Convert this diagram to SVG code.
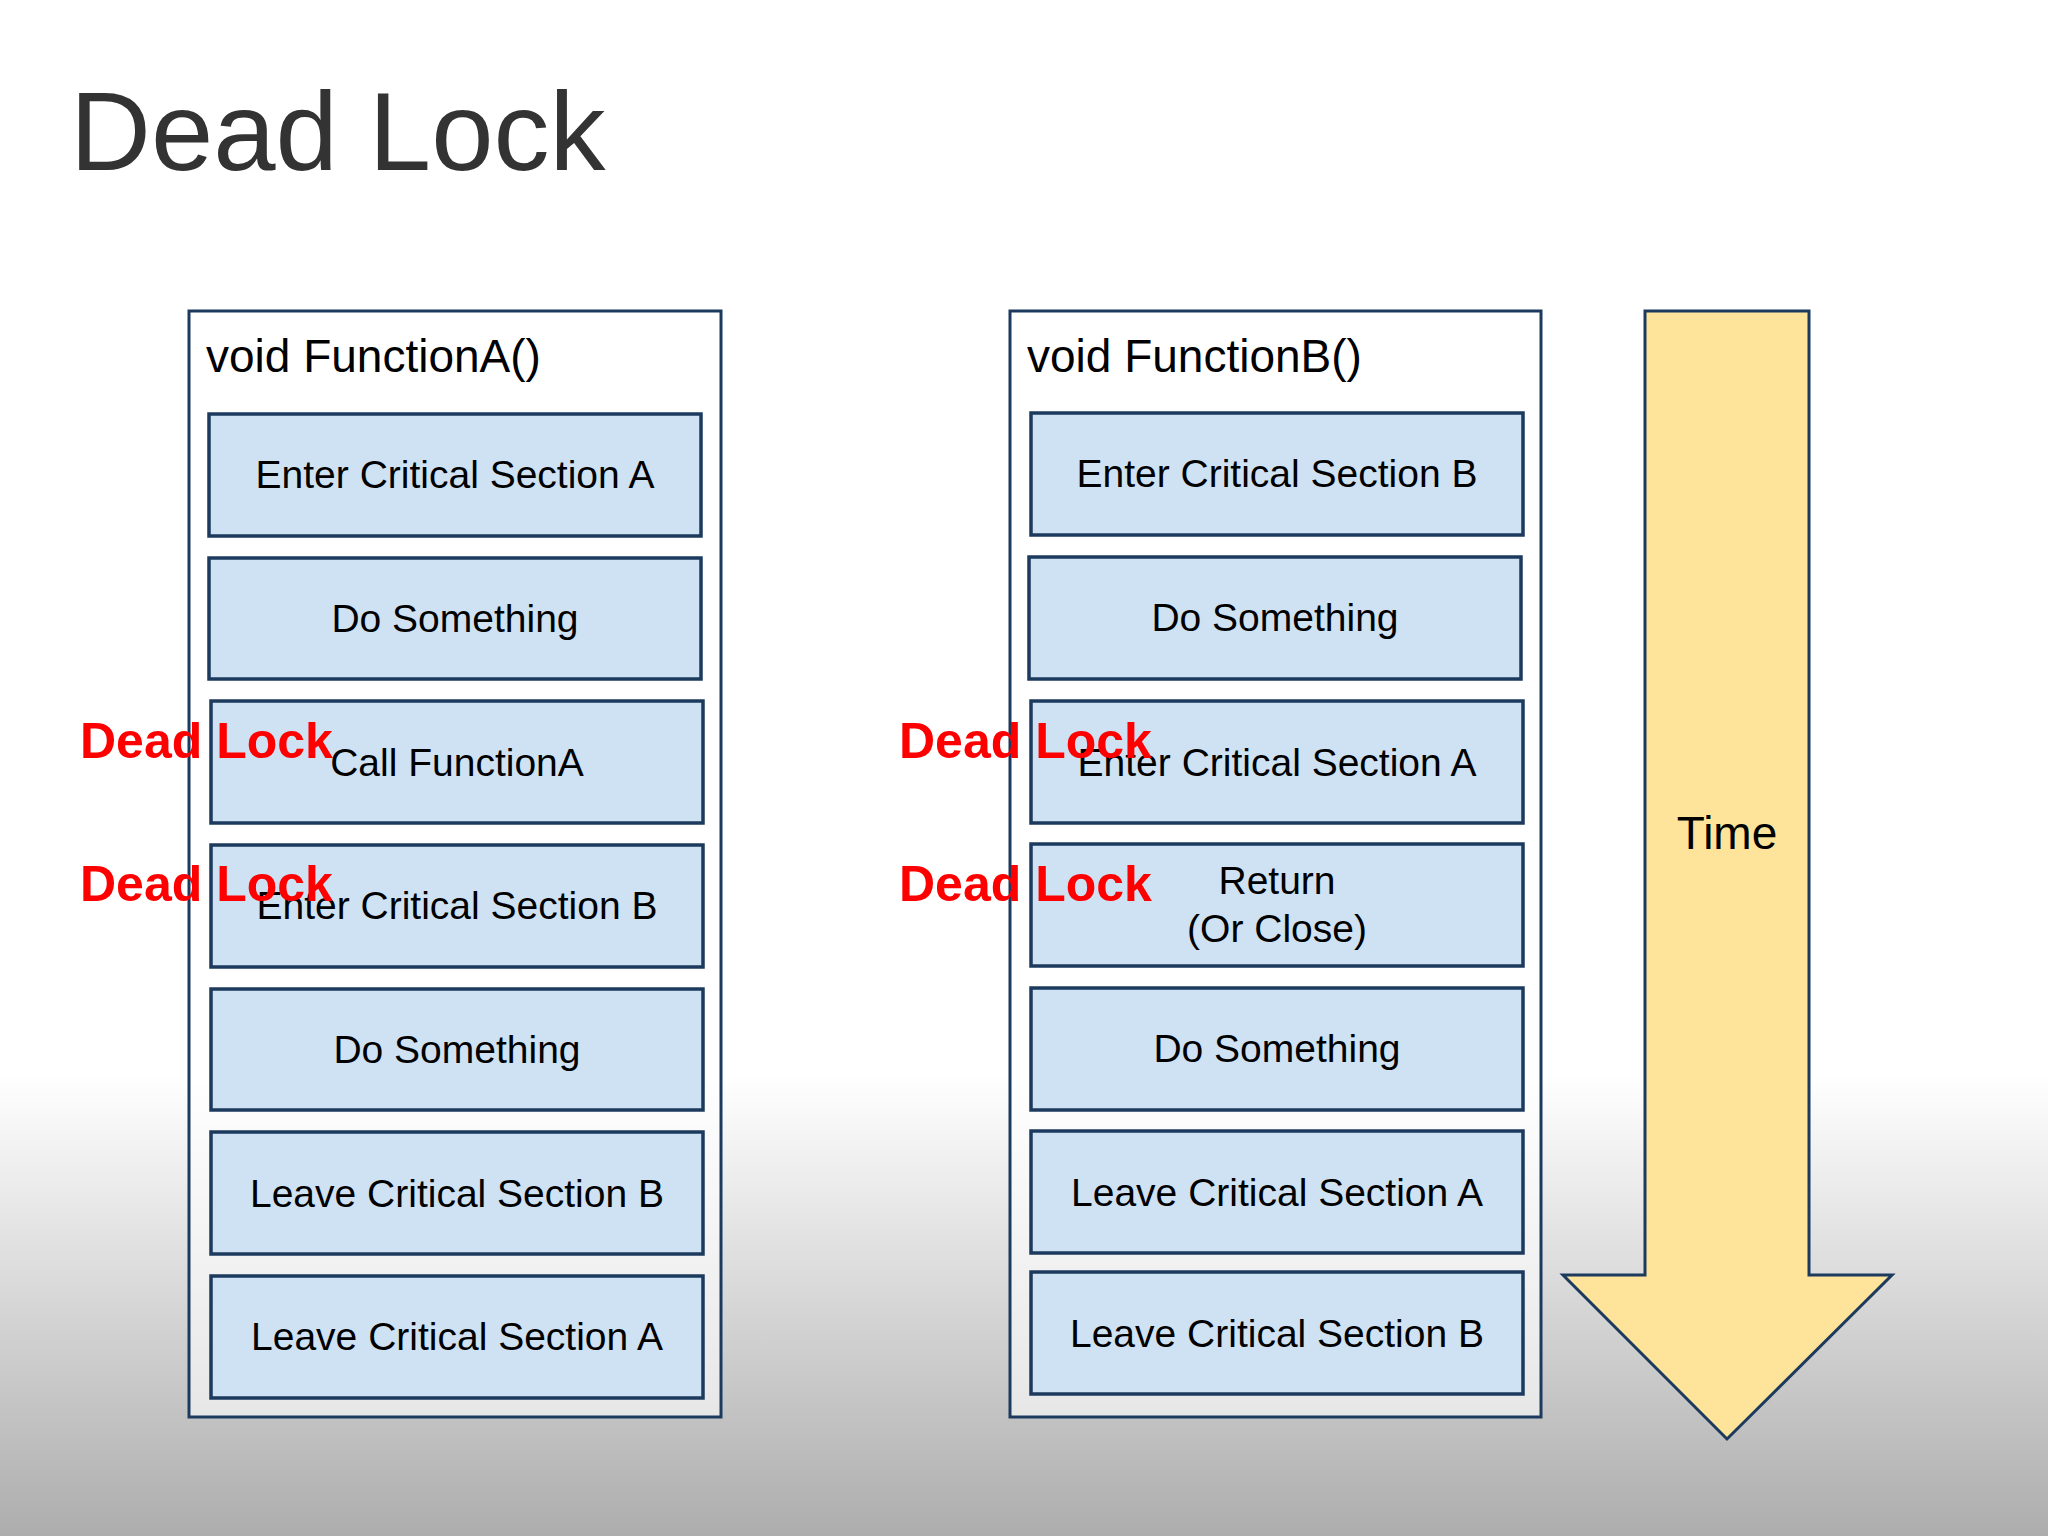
<svg xmlns="http://www.w3.org/2000/svg" width="2048" height="1536" viewBox="0 0 2048 1536">
<defs>
<linearGradient id="bg" x1="0" y1="0" x2="0" y2="1536" gradientUnits="userSpaceOnUse">
<stop offset="0" stop-color="#ffffff"/><stop offset="0.7" stop-color="#ffffff"/><stop offset="1" stop-color="#adadad"/>
</linearGradient>
<style>
.c{fill:#ffffff;stroke:#1c3a5e;stroke-width:3}
.b{fill:#cfe2f3;stroke:#1c3a5e;stroke-width:3.5}
.t{font-family:"Liberation Sans",Arial,sans-serif;font-size:39px;fill:#000;text-anchor:middle}
.h{font-family:"Liberation Sans",Arial,sans-serif;font-size:46px;fill:#000}
.d{font-family:"Liberation Sans",Arial,sans-serif;font-size:50px;font-weight:bold;fill:#ff0000}
</style>
</defs>
<rect width="2048" height="1536" fill="url(#bg)"/>
<text x="70" y="170" font-family="Liberation Sans,Arial,sans-serif" font-size="112" fill="#333">Dead Lock</text>
<g id="functionA">
<rect class="c" x="189" y="311" width="532" height="1106" fill-opacity="0.6"/>
<text class="h" x="206" y="372">void FunctionA()</text>
<rect class="b" x="209" y="414" width="492" height="122"/><text class="t" x="455" y="488">Enter Critical Section A</text>
<rect class="b" x="209" y="558" width="492" height="121"/><text class="t" x="455" y="632">Do Something</text>
<rect class="b" x="211" y="701" width="492" height="122"/><text class="t" x="457" y="776">Call FunctionA</text>
<rect class="b" x="211" y="845" width="492" height="122"/><text class="t" x="457" y="919">Enter Critical Section B</text>
<rect class="b" x="211" y="989" width="492" height="121"/><text class="t" x="457" y="1063">Do Something</text>
<rect class="b" x="211" y="1132" width="492" height="122"/><text class="t" x="457" y="1207">Leave Critical Section B</text>
<rect class="b" x="211" y="1276" width="492" height="122"/><text class="t" x="457" y="1350">Leave Critical Section A</text>
</g>
<g id="functionB">
<rect class="c" x="1010" y="311" width="531" height="1106" fill-opacity="0.6"/>
<text class="h" x="1027" y="372">void FunctionB()</text>
<rect class="b" x="1031" y="413" width="492" height="122"/><text class="t" x="1277" y="487">Enter Critical Section B</text>
<rect class="b" x="1029" y="557" width="492" height="122"/><text class="t" x="1275" y="631">Do Something</text>
<rect class="b" x="1031" y="701" width="492" height="122"/><text class="t" x="1277" y="776">Enter Critical Section A</text>
<rect class="b" x="1031" y="844" width="492" height="122"/><text class="t" x="1277" y="894">Return</text><text class="t" x="1277" y="942">(Or Close)</text>
<rect class="b" x="1031" y="988" width="492" height="122"/><text class="t" x="1277" y="1062">Do Something</text>
<rect class="b" x="1031" y="1131" width="492" height="122"/><text class="t" x="1277" y="1206">Leave Critical Section A</text>
<rect class="b" x="1031" y="1272" width="492" height="122"/><text class="t" x="1277" y="1347">Leave Critical Section B</text>
</g>
<g id="deadlocks">
<text class="d" x="80" y="758">Dead Lock</text>
<text class="d" x="80" y="901">Dead Lock</text>
<text class="d" x="899" y="758">Dead Lock</text>
<text class="d" x="899" y="901">Dead Lock</text>
</g>
<g id="time">
<polygon points="1645,311 1809,311 1809,1275 1892,1275 1727,1439 1563,1275 1645,1275" fill="#fde49a" stroke="#1c3a5e" stroke-width="3"/>
<text class="h" x="1727" y="849" text-anchor="middle">Time</text>
</g>
</svg>
